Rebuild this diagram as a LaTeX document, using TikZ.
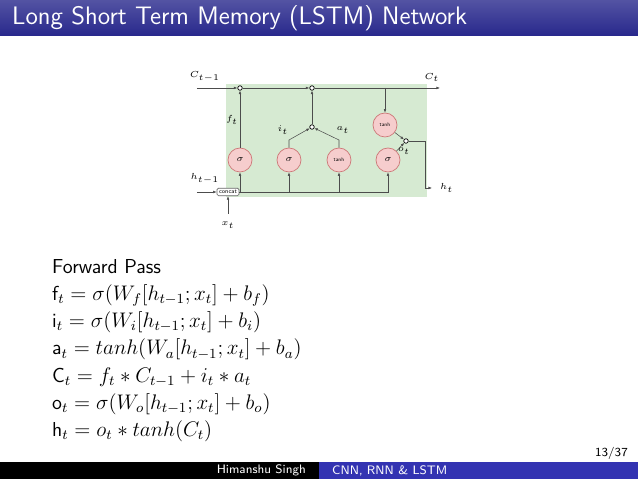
\documentclass[tikz,border=0pt]{standalone}
\usepackage{amsmath}
\usetikzlibrary{arrows.meta}
\definecolor{barblue}{RGB}{51,51,178}
\definecolor{titleblue}{RGB}{40,40,140}
\definecolor{cellgreen}{RGB}{214,234,210}
\definecolor{gatepink}{RGB}{246,205,205}
\definecolor{gatered}{RGB}{205,120,120}
\tikzset{
  gate/.style={circle, draw=gatered, fill=gatepink, minimum size=24*0.2mm, inner sep=0pt, font=\fontsize{3}{3}\selectfont\sffamily},
  op/.style={circle, draw, fill=white, minimum size=0.9mm, inner sep=0pt},
  wire/.style={draw=black!70, line width=0.3pt, -{Latex[length=0.7mm]}},
  tag/.style={font=\fontsize{3.5}{4}\selectfont}
}
\begin{document}
\begin{tikzpicture}[x=0.2mm, y=-0.2mm]
  \useasboundingbox (0,0) rectangle (638,479);
  \fill[white] (0,0) rectangle (638,479);

  % title bar
  \shade[top color=titleblue!80, bottom color=titleblue] (0,0) rectangle (638,36);
  \node[anchor=west, text=white, font=\sffamily\fontsize{14.4}{16}\selectfont] (title) at (6,18) {Long Short Term Memory (LSTM) Network};

  % LSTM cell
  \fill[cellgreen] (226,84) rectangle (427,197);
  \node[gate] (sf) at (240,160) {$\sigma$};
  \node[gate] (si) at (289,160) {$\sigma$};
  \node[gate] (ta) at (339,160) {tanh};
  \node[gate] (so) at (388,160) {$\sigma$};
  \node[gate] (tc) at (385,125) {tanh};
  \node[op] (mf) at (240,88) {};
  \node[op] (ad) at (312,88) {};
  \node[op] (mi) at (312,127) {};
  \node[op] (mo) at (406,141) {};
  \node[draw=black!60, fill=white, rounded corners=0.3mm, inner sep=0.4mm, font=\fontsize{3.5}{4}\selectfont\sffamily] (cc) at (228,192) {concat};

  \coordinate (cin) at (197,88);
  \coordinate (cout) at (440,88);
  \coordinate (hin) at (197,192);
  \coordinate (hout) at (432,188);
  \coordinate (xin) at (228,214);

  \node[tag, anchor=south] at (205,88) {$C_{t-1}$};
  \node[tag, anchor=south] at (432,88) {$C_t$};
  \node[tag, anchor=south] at (205,190) {$h_{t-1}$};
  \node[tag, anchor=west] at (434,188) {$h_t$};
  \node[tag, anchor=north] at (228,216) {$x_t$};
  \node[tag] at (232,120) {$f_t$};
  \node[tag] at (283,130) {$i_t$};
  \node[tag] at (343,130) {$a_t$};
  \node[tag] at (404,151) {$o_t$};

  \draw[wire] (cin) -- (mf);
  \draw[wire] (mf) -- (ad);
  \draw[wire] (ad) -- (cout);
  \draw[wire] (hin) -- (cc);
  \draw[wire] (xin) -- (cc);
  \draw[wire] (cc.east) -- (so.south |- cc.east) -- (so);
  \draw[wire] (cc.east) -| (sf);
  \draw[wire] (cc.east) -| (si);
  \draw[wire] (cc.east) -| (ta);
  \draw[wire] (sf) -- (mf);
  \draw[wire] (si) -- (289,140) -- (mi);
  \draw[wire] (ta) -- (339,140) -- (mi);
  \draw[wire] (mi) -- (ad);
  \draw[wire] (tc.north |- ad) -- (tc);
  \draw[wire] (tc) -- (mo);
  \draw[wire] (so) -- (mo);
  \draw[wire] (mo) -- (425,141) |- (hout);

  % equations
  \node[anchor=north west, align=left, font=\sffamily\fontsize{11.5}{15.5}\selectfont] (eqs) at (46,253) {%
    Forward Pass\\
    f$_t = \sigma(W_f[h_{t-1};x_t]+b_f)$\\
    i$_t = \sigma(W_i[h_{t-1};x_t]+b_i)$\\
    a$_t = tanh(W_a[h_{t-1};x_t]+b_a)$\\
    C$_t = f_t * C_{t-1} + i_t * a_t$\\
    o$_t = \sigma(W_o[h_{t-1};x_t]+b_o)$\\
    h$_t = o_t * tanh(C_t)$};

  % footer
  \node[anchor=east, font=\sffamily\fontsize{7}{8}\selectfont] (page) at (634,453) {13/37};
  \fill[black] (0,462) rectangle (319,479);
  \fill[barblue] (319,462) rectangle (638,479);
  \node[anchor=east, text=white, font=\sffamily\fontsize{7}{8}\selectfont] (author) at (312,470.5) {Himanshu Singh};
  \node[anchor=west, text=white, font=\sffamily\fontsize{7}{8}\selectfont] (short) at (326,470.5) {CNN, RNN \& LSTM};
\end{tikzpicture}
\end{document}
